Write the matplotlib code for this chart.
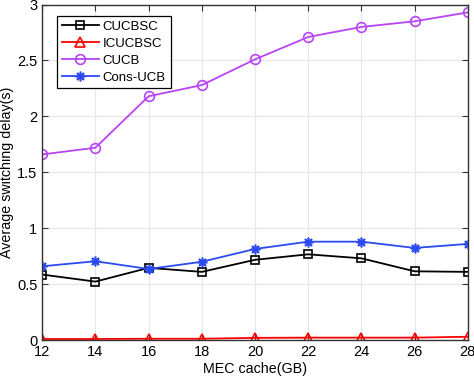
import numpy as np
import matplotlib
matplotlib.use('Agg')
import matplotlib.pyplot as plt

plt.rcParams['font.family'] = ['Liberation Sans', 'DejaVu Sans']

cache = [12, 14, 16, 18, 20, 22, 24, 26, 28]
cucbsc = [0.586, 0.523, 0.646, 0.61, 0.718, 0.767, 0.731, 0.615, 0.61]
icucbsc = [0.01, 0.01, 0.012, 0.012, 0.02, 0.022, 0.022, 0.022, 0.03]
cucb = [1.66, 1.72, 2.18, 2.28, 2.51, 2.71, 2.80, 2.85, 2.93]
cons_ucb = [0.66, 0.705, 0.636, 0.70, 0.815, 0.88, 0.88, 0.824, 0.86]

fig = plt.figure(figsize=(4.74, 3.8), dpi=100)
ax = fig.add_axes([0.089, 0.105, 0.898, 0.883])

ax.plot(cache, cucbsc, color='black', marker='s', ms=6, mfc='none', mew=1.2, lw=1.3, label='CUCBSC')
ax.plot(cache, icucbsc, color='red', marker='^', ms=7, mfc='none', mew=1.2, lw=1.3, label='ICUCBSC')
ax.plot(cache, cucb, color='#B844F5', marker='o', ms=7, mfc='none', mew=1.2, lw=1.3, label='CUCB')
ax.plot(cache, cons_ucb, color='#2B4BF0', marker=(8, 2, 0), ms=7, mew=1.2, lw=1.3, label='Cons-UCB')

ax.set_xlim(12, 28)
ax.set_ylim(0, 3)
ax.set_xticks(cache)
ax.set_yticks([0, 0.5, 1, 1.5, 2, 2.5, 3])
ax.set_yticklabels(['0', '0.5', '1', '1.5', '2', '2.5', '3'])
ax.grid(True, color='#e6e6e6', lw=0.8)
ax.tick_params(direction='in', top=True, right=True, labelsize=10.5, length=4, color='#333333')
for s in ax.spines.values():
    s.set_color('#333333')
    s.set_linewidth(1.0)

ax.set_xlabel('MEC cache(GB)', fontsize=10.3, labelpad=2)
ax.set_ylabel('Average switching delay(s)', fontsize=10.3, labelpad=2)

leg = ax.legend(loc='upper left', bbox_to_anchor=(0.02, 0.985), fontsize=9.5,
                fancybox=False, edgecolor='black', framealpha=1,
                handlelength=2.8, borderpad=0.35, labelspacing=0.35, handletextpad=0.3)
leg.get_frame().set_linewidth(0.9)

fig.savefig('out.png', dpi=100)
